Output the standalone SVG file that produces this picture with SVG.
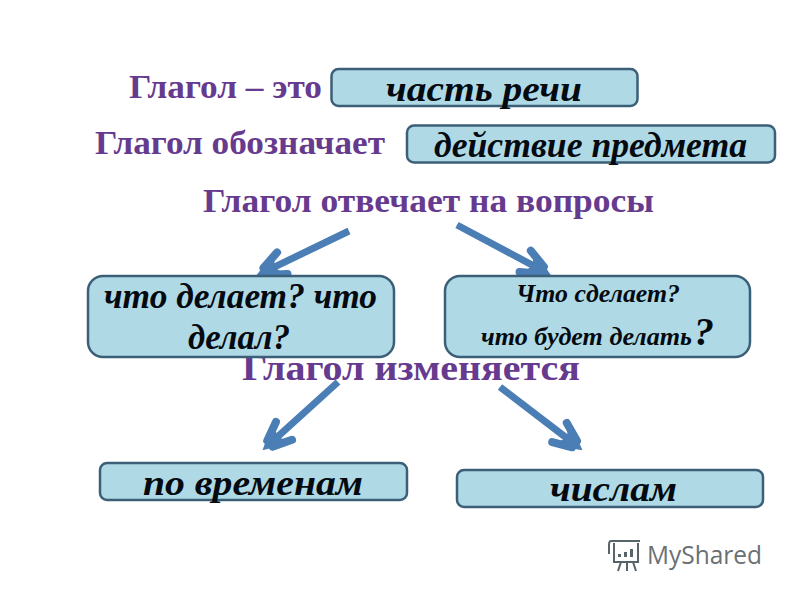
<svg xmlns="http://www.w3.org/2000/svg" width="800" height="600" viewBox="0 0 800 600">
<style>
.h{font-family:"Liberation Serif",serif;font-weight:bold;font-size:34px;fill:#663a8e}
.t{font-family:"Liberation Serif",serif;font-weight:bold;font-style:italic;fill:#050a10;font-size:35px}
.s{font-size:25px}
.q{font-size:40px}
.b{fill:#b0d9e6;stroke:#3c5f78;stroke-width:2.500}
.a{fill:none;stroke:#4a7eb5;stroke-width:7;marker-end:url(#ah)}
</style>
<defs>
<marker id="ah" markerUnits="userSpaceOnUse" markerWidth="44" markerHeight="44" refX="26" refY="22" orient="auto" viewBox="0 0 44 44">
<path d="M8 6L38 22L8 38L13 31L18 22L13 13Z" fill="#4a7eb5"/>
<path d="M9 10L28 18M9 34L28 26" fill="none" stroke="#4a7eb5" stroke-width="8" stroke-linecap="round"/>
</marker>
</defs>
<rect width="800" height="600" fill="#fff"/>
<g id="labels">
<text class="h" x="129" y="98" textLength="193" lengthAdjust="spacingAndGlyphs">Глагол – это</text>
<text class="h" x="95" y="154" textLength="290" lengthAdjust="spacingAndGlyphs">Глагол обозначает</text>
<text class="h" x="203" y="212" textLength="451" lengthAdjust="spacingAndGlyphs">Глагол отвечает на вопросы</text>
<text class="h" x="242" y="380" textLength="338" lengthAdjust="spacingAndGlyphs" style="font-size:35px">Глагол изменяется</text>
</g>
<g id="connectors">
<path class="a" d="M349 231L267 270.600"/>
<path class="a" d="M457 225L540.200 269.300"/>
<path class="a" d="M338 382L271.400 442.300"/>
<path class="a" d="M500 387L573 442.900"/>
</g>
<g id="node-chast-rechi"><rect class="b" x="331.500" y="69" width="306" height="37" rx="7"/><text class="t" x="386" y="101" textLength="196" lengthAdjust="spacingAndGlyphs">часть речи</text></g>
<g id="node-deistvie"><rect class="b" x="407" y="125.500" width="368" height="37" rx="7"/><text class="t" x="434" y="157" textLength="313" lengthAdjust="spacingAndGlyphs">действие предмета</text></g>
<g id="node-chto-delaet"><rect class="b" x="88" y="276" width="306" height="81" rx="15"/><text class="t" x="104" y="308" textLength="273" lengthAdjust="spacingAndGlyphs">что делает? что</text><text class="t" x="188" y="349" textLength="102" lengthAdjust="spacingAndGlyphs">делал?</text></g>
<g id="node-chto-sdelaet"><rect class="b" x="445" y="276" width="305" height="81" rx="15"/><text class="t s" x="516" y="302" textLength="164" lengthAdjust="spacingAndGlyphs">Что сделает?</text><text class="t s" x="481" y="345" textLength="211" lengthAdjust="spacingAndGlyphs">что будет делать</text><text class="t q" x="694" y="345">?</text></g>
<g id="node-po-vremenam"><rect class="b" x="100" y="463" width="307" height="37" rx="7"/><text class="t" x="143" y="495" textLength="220" lengthAdjust="spacingAndGlyphs">по временам</text></g>
<g id="node-chislam"><rect class="b" x="457" y="470" width="306" height="37" rx="7"/><text class="t" x="550" y="501" textLength="127" lengthAdjust="spacingAndGlyphs">числам</text></g>
<g id="logo">
<path d="M611 541H640M611 541Q609 541 609 545V554M614 543V562H638V543M621 562L618 571M627 562V571M633 562L636 571" fill="none" stroke="#59636a" stroke-width="2"/>
<path d="M618 557h3v-3h-3zM624 557h3v-5h-3zM630 557h3v-8h-3z" fill="#59636a"/>
<text x="647" y="564" textLength="115" lengthAdjust="spacingAndGlyphs" style="font-family:'Open Sans',sans-serif;font-size:25px;fill:#6a7074">MyShared</text>
</g>
</svg>
